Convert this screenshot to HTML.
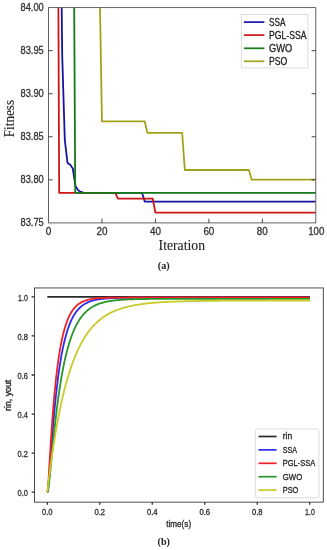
<!DOCTYPE html>
<html><head><meta charset="utf-8"><title>Figure</title>
<style>
html,body{margin:0;padding:0;background:#fff;}
body{width:327px;height:550px;overflow:hidden;}
svg{display:block;}
</style></head><body>
<svg width="327" height="550" viewBox="0 0 327 550">
<rect width="327" height="550" fill="#fff"/>
<clipPath id="ca"><rect x="48.5" y="7.6" width="267.30" height="215.30"/></clipPath>
<g clip-path="url(#ca)" fill="none" stroke-width="1.8" stroke-linejoin="round">
<polyline stroke="#1414a2" points="61.20,-40.00 61.70,7.50 62.20,55.00 64.80,140.00 67.50,162.90 70.20,164.80 72.80,168.50 75.50,186.20 78.20,190.30 80.80,191.90 83.50,192.60 86.20,192.90 142.06,192.90 144.73,201.60 315.80,201.60"/>
<polyline stroke="#cf1414" points="58.10,-40.00 58.40,7.50 59.19,192.90 115.33,192.90 118.00,198.60 152.75,198.60 155.42,212.60 315.80,212.60"/>
<polyline stroke="#147a18" points="73.90,-40.00 74.20,7.50 75.23,192.90 315.80,192.90"/>
<polyline stroke="#a3a11c" points="99.50,-40.00 100.00,7.50 101.96,121.30 144.73,121.30 147.40,132.80 182.15,132.80 184.82,170.00 248.97,170.00 251.65,179.70 315.80,179.70"/>
</g>
<rect x="48.5" y="7.6" width="267.30" height="215.30" fill="none" stroke="#525252" stroke-width="0.9"/>
<path d="M101.96 222.9 V218.70 M155.42 222.9 V218.70 M208.88 222.9 V218.70 M262.34 222.9 V218.70 M48.5 179.84 H52.70 M315.8 179.84 H311.60 M48.5 136.78 H52.70 M315.8 136.78 H311.60 M48.5 93.72 H52.70 M315.8 93.72 H311.60 M48.5 50.66 H52.70 M315.8 50.66 H311.60" stroke="#333" stroke-width="0.9" fill="none"/>
<text x="20.50" y="225.90" font-size="10.0" fill="#333" font-family='"Liberation Sans", sans-serif' textLength="23.20" lengthAdjust="spacingAndGlyphs" stroke="#333" stroke-width="0.3">83.75</text>
<text x="20.50" y="182.84" font-size="10.0" fill="#333" font-family='"Liberation Sans", sans-serif' textLength="23.20" lengthAdjust="spacingAndGlyphs" stroke="#333" stroke-width="0.3">83.80</text>
<text x="20.50" y="139.78" font-size="10.0" fill="#333" font-family='"Liberation Sans", sans-serif' textLength="23.20" lengthAdjust="spacingAndGlyphs" stroke="#333" stroke-width="0.3">83.85</text>
<text x="20.50" y="96.72" font-size="10.0" fill="#333" font-family='"Liberation Sans", sans-serif' textLength="23.20" lengthAdjust="spacingAndGlyphs" stroke="#333" stroke-width="0.3">83.90</text>
<text x="20.50" y="53.66" font-size="10.0" fill="#333" font-family='"Liberation Sans", sans-serif' textLength="23.20" lengthAdjust="spacingAndGlyphs" stroke="#333" stroke-width="0.3">83.95</text>
<text x="20.50" y="10.60" font-size="10.0" fill="#333" font-family='"Liberation Sans", sans-serif' textLength="23.20" lengthAdjust="spacingAndGlyphs" stroke="#333" stroke-width="0.3">84.00</text>
<text x="45.70" y="234.50" font-size="10.4" fill="#333" font-family='"Liberation Sans", sans-serif' textLength="5.60" lengthAdjust="spacingAndGlyphs" stroke="#333" stroke-width="0.3">0</text>
<text x="96.46" y="234.50" font-size="10.4" fill="#333" font-family='"Liberation Sans", sans-serif' textLength="11.00" lengthAdjust="spacingAndGlyphs" stroke="#333" stroke-width="0.3">20</text>
<text x="149.92" y="234.50" font-size="10.4" fill="#333" font-family='"Liberation Sans", sans-serif' textLength="11.00" lengthAdjust="spacingAndGlyphs" stroke="#333" stroke-width="0.3">40</text>
<text x="203.38" y="234.50" font-size="10.4" fill="#333" font-family='"Liberation Sans", sans-serif' textLength="11.00" lengthAdjust="spacingAndGlyphs" stroke="#333" stroke-width="0.3">60</text>
<text x="256.84" y="234.50" font-size="10.4" fill="#333" font-family='"Liberation Sans", sans-serif' textLength="11.00" lengthAdjust="spacingAndGlyphs" stroke="#333" stroke-width="0.3">80</text>
<text x="308.20" y="234.50" font-size="10.4" fill="#333" font-family='"Liberation Sans", sans-serif' textLength="16.20" lengthAdjust="spacingAndGlyphs" stroke="#333" stroke-width="0.3">100</text>
<text x="158.60" y="249.70" font-size="13.6" fill="#222" font-family='"Liberation Serif", serif' textLength="46.40" lengthAdjust="spacingAndGlyphs" stroke="#222" stroke-width="0.1">Iteration</text>
<text transform="translate(13.7 137.2) rotate(-90)" font-size="14.2" fill="#222" stroke="#222" stroke-width="0.1" font-family='"Liberation Serif", serif' textLength="37.2" lengthAdjust="spacingAndGlyphs">Fitness</text>
<rect x="241.3" y="14.4" width="66.6" height="53.5" fill="#fff" stroke="#d4d4d4" stroke-width="0.8"/>
<line x1="243.9" x2="264.4" y1="22.1" y2="22.1" stroke="#1414a2" stroke-width="1.7"/>
<text x="269.00" y="25.70" font-size="11" fill="#222" font-family='"Liberation Sans", sans-serif' textLength="16.50" lengthAdjust="spacingAndGlyphs" stroke="#222" stroke-width="0.3">SSA</text>
<line x1="243.9" x2="264.4" y1="35.1" y2="35.1" stroke="#cf1414" stroke-width="1.7"/>
<text x="269.00" y="38.70" font-size="11" fill="#222" font-family='"Liberation Sans", sans-serif' textLength="37.60" lengthAdjust="spacingAndGlyphs" stroke="#222" stroke-width="0.3">PGL-SSA</text>
<line x1="243.9" x2="264.4" y1="48.3" y2="48.3" stroke="#147a18" stroke-width="1.7"/>
<text x="269.00" y="51.90" font-size="11" fill="#222" font-family='"Liberation Sans", sans-serif' textLength="23.20" lengthAdjust="spacingAndGlyphs" stroke="#222" stroke-width="0.3">GWO</text>
<line x1="243.9" x2="264.4" y1="61.3" y2="61.3" stroke="#a3a11c" stroke-width="1.7"/>
<text x="269.00" y="64.90" font-size="11" fill="#222" font-family='"Liberation Sans", sans-serif' textLength="18.30" lengthAdjust="spacingAndGlyphs" stroke="#222" stroke-width="0.3">PSO</text>
<text x="163.80" y="268.60" font-size="10.2" fill="#222" font-family='"Liberation Serif", serif' font-weight="bold" text-anchor="middle">(a)</text>
<g fill="none" stroke-width="1.8" stroke-linecap="butt" stroke-linejoin="round">
<line x1="47.3" x2="310.0" y1="296.9" y2="296.9" stroke="#2a2a2a"/>
<polyline stroke="#2c2cee" stroke-width="1.8" points="47.30,492.20 47.30,492.20 47.31,492.20 47.31,492.20 47.33,492.20 47.34,492.19 47.36,492.18 47.38,492.16 47.40,492.13 47.43,492.08 47.46,492.02 47.50,491.95 47.54,491.84 47.58,491.72 47.62,491.56 47.67,491.36 47.72,491.13 47.77,490.85 47.83,490.53 47.89,490.16 47.96,489.74 48.02,489.26 48.09,488.73 48.17,488.13 48.24,487.47 48.32,486.74 48.41,485.94 48.50,485.08 48.59,484.14 48.68,483.14 48.78,482.06 48.88,480.91 48.98,479.69 49.09,478.40 49.20,477.04 49.31,475.61 49.43,474.12 49.55,472.56 49.67,470.93 49.79,469.25 49.92,467.51 50.06,465.71 50.19,463.85 50.33,461.95 50.48,460.00 50.62,458.00 50.77,455.96 50.92,453.88 51.08,451.76 51.24,449.62 51.40,447.43 51.57,445.23 51.73,442.99 51.91,440.74 52.08,438.47 52.26,436.18 52.44,433.87 52.63,431.56 52.82,429.23 53.01,426.90 53.20,424.57 53.40,422.23 53.60,419.89 53.81,417.56 54.02,415.23 54.23,412.90 54.44,410.58 54.66,408.28 54.88,405.98 55.11,403.70 55.34,401.43 55.57,399.17 55.80,396.93 56.04,394.71 56.28,392.51 56.52,390.33 56.77,388.17 57.02,386.03 57.28,383.91 57.54,381.82 57.80,379.76 58.06,377.71 58.33,375.70 58.60,373.71 58.87,371.75 59.15,369.82 59.43,367.91 59.71,366.03 60.00,364.19 60.29,362.37 60.58,360.58 60.88,358.82 61.18,357.10 61.48,355.40 61.79,353.73 62.10,352.10 62.41,350.50 62.73,348.92 63.05,347.38 63.37,345.87 63.70,344.40 64.03,342.95 64.36,341.53 64.70,340.15 65.04,338.79 65.38,337.47 65.73,336.18 66.08,334.91 66.43,333.68 66.78,332.48 67.14,331.31 67.51,330.16 67.87,329.05 68.24,327.96 68.61,326.91 68.99,325.88 69.37,324.88 69.75,323.90 70.14,322.95 70.52,322.03 70.92,321.14 71.31,320.27 71.71,319.43 72.11,318.61 72.52,317.82 72.92,317.05 73.34,316.30 73.75,315.58 74.17,314.88 74.59,314.20 75.02,313.54 75.44,312.91 75.88,312.30 76.31,311.70 76.75,311.13 77.19,310.57 77.63,310.04 78.08,309.52 78.53,309.02 78.99,308.54 79.44,308.08 79.90,307.63 80.37,307.20 80.84,306.79 81.31,306.39 81.78,306.00 82.26,305.63 82.74,305.28 83.22,304.94 83.71,304.61 84.20,304.29 84.69,303.99 85.19,303.70 85.69,303.42 86.19,303.15 86.70,302.89 87.21,302.64 87.72,302.41 88.24,302.18 88.76,301.96 89.28,301.76 89.81,301.56 90.34,301.37 90.87,301.18 91.41,301.01 91.95,300.84 92.49,300.69 93.04,300.53 93.59,300.39 94.14,300.25 94.70,300.12 95.26,299.99 95.82,299.87 96.38,299.76 96.95,299.65 97.52,299.55 98.10,299.45 98.68,299.35 99.26,299.26 99.85,299.18 100.44,299.10 101.03,299.02 101.62,298.95 102.22,298.88 102.82,298.81 103.43,298.75 104.04,298.69 104.65,298.63 105.26,298.58 105.88,298.53 106.50,298.48 107.13,298.44 107.76,298.39 108.39,298.35 109.02,298.32 109.66,298.28 110.30,298.24 110.95,298.21 111.59,298.18 112.25,298.15 112.90,298.13 113.56,298.10 114.22,298.07 114.88,298.05 115.55,298.03 116.22,298.01 116.90,297.99 117.57,297.97 118.25,297.95 118.94,297.94 119.62,297.92 120.31,297.91 121.01,297.90 121.71,297.88 122.41,297.87 123.11,297.86 123.82,297.85 124.53,297.84 125.24,297.83 125.96,297.82 126.68,297.81 127.40,297.81 128.13,297.80 128.86,297.79 129.59,297.79 130.32,297.78 131.06,297.77 131.81,297.77 132.55,297.77 133.30,297.76 134.06,297.76 134.81,297.75 135.57,297.75 136.33,297.75 137.10,297.74 137.87,297.74 138.64,297.74 139.42,297.73 140.20,297.73 140.98,297.73 141.76,297.73 142.55,297.73 143.34,297.72 144.14,297.72 144.94,297.72 145.74,297.72 146.55,297.72 147.35,297.72 148.17,297.71 148.98,297.71 149.80,297.71 150.62,297.71 151.45,297.71 152.27,297.71 153.11,297.71 153.94,297.71 154.78,297.71 155.62,297.71 156.46,297.71 157.31,297.71 158.16,297.71 159.02,297.71 159.88,297.70 160.74,297.70 161.60,297.70 162.47,297.70 163.34,297.70 164.21,297.70 165.09,297.70 165.97,297.70 166.86,297.70 167.74,297.70 168.63,297.70 169.53,297.70 170.42,297.70 171.32,297.70 172.23,297.70 173.14,297.70 174.05,297.70 174.96,297.70 175.88,297.70 176.80,297.70 177.72,297.70 178.65,297.70 179.58,297.70 180.51,297.70 181.45,297.70 182.39,297.70 183.33,297.70 184.27,297.70 185.22,297.70 186.18,297.70 187.13,297.70 188.09,297.70 189.06,297.70 190.02,297.70 190.99,297.70 191.96,297.70 192.94,297.70 193.92,297.70 194.90,297.70 195.89,297.70 196.87,297.70 197.87,297.70 198.86,297.70 199.86,297.70 200.86,297.70 201.87,297.70 202.88,297.70 203.89,297.70 204.90,297.70 205.92,297.70 206.94,297.70 207.97,297.70 209.00,297.70 210.03,297.70 211.06,297.70 212.10,297.70 213.14,297.70 214.19,297.70 215.24,297.70 216.29,297.70 217.34,297.70 218.40,297.70 219.46,297.70 220.52,297.70 221.59,297.70 222.66,297.70 223.74,297.70 224.82,297.70 225.90,297.70 226.98,297.70 228.07,297.70 229.16,297.70 230.25,297.70 231.35,297.70 232.45,297.70 233.55,297.70 234.66,297.70 235.77,297.70 236.88,297.70 238.00,297.70 239.12,297.70 240.24,297.70 241.37,297.70 242.50,297.70 243.63,297.70 244.77,297.70 245.91,297.70 247.05,297.70 248.20,297.70 249.35,297.70 250.50,297.70 251.66,297.70 252.82,297.70 253.98,297.70 255.15,297.70 256.32,297.70 257.49,297.70 258.66,297.70 259.84,297.70 261.03,297.70 262.21,297.70 263.40,297.70 264.59,297.70 265.79,297.70 266.99,297.70 268.19,297.70 269.40,297.70 270.60,297.70 271.82,297.70 273.03,297.70 274.25,297.70 275.47,297.70 276.70,297.70 277.92,297.70 279.16,297.70 280.39,297.70 281.63,297.70 282.87,297.70 284.12,297.70 285.36,297.70 286.62,297.70 287.87,297.70 289.13,297.70 290.39,297.70 291.65,297.70 292.92,297.70 294.19,297.70 295.47,297.70 296.74,297.70 298.02,297.70 299.31,297.70 300.60,297.70 301.89,297.70 303.18,297.70 304.48,297.70 305.78,297.70 307.08,297.70 308.39,297.70 309.70,297.70 310.00,297.70"/>
<polyline stroke="#ee2226" stroke-width="1.8" points="47.30,492.20 47.30,492.20 47.31,492.20 47.31,492.20 47.33,492.19 47.34,492.18 47.36,492.16 47.38,492.12 47.40,492.06 47.43,491.98 47.46,491.88 47.50,491.73 47.54,491.55 47.58,491.32 47.62,491.03 47.67,490.69 47.72,490.29 47.77,489.82 47.83,489.27 47.89,488.65 47.96,487.96 48.02,487.17 48.09,486.31 48.17,485.35 48.24,484.31 48.32,483.18 48.41,481.97 48.50,480.67 48.59,479.28 48.68,477.81 48.78,476.26 48.88,474.63 48.98,472.92 49.09,471.14 49.20,469.29 49.31,467.38 49.43,465.40 49.55,463.37 49.67,461.28 49.79,459.14 49.92,456.96 50.06,454.73 50.19,452.47 50.33,450.17 50.48,447.83 50.62,445.47 50.77,443.09 50.92,440.68 51.08,438.26 51.24,435.82 51.40,433.37 51.57,430.91 51.73,428.44 51.91,425.97 52.08,423.50 52.26,421.02 52.44,418.55 52.63,416.09 52.82,413.63 53.01,411.18 53.20,408.73 53.40,406.31 53.60,403.89 53.81,401.49 54.02,399.11 54.23,396.74 54.44,394.39 54.66,392.07 54.88,389.76 55.11,387.48 55.34,385.23 55.57,382.99 55.80,380.79 56.04,378.61 56.28,376.46 56.52,374.34 56.77,372.25 57.02,370.19 57.28,368.16 57.54,366.16 57.80,364.19 58.06,362.26 58.33,360.36 58.60,358.49 58.87,356.66 59.15,354.86 59.43,353.09 59.71,351.36 60.00,349.67 60.29,348.01 60.58,346.38 60.88,344.79 61.18,343.24 61.48,341.72 61.79,340.23 62.10,338.78 62.41,337.36 62.73,335.98 63.05,334.64 63.37,333.32 63.70,332.04 64.03,330.80 64.36,329.58 64.70,328.41 65.04,327.26 65.38,326.14 65.73,325.06 66.08,324.01 66.43,322.99 66.78,321.99 67.14,321.03 67.51,320.10 67.87,319.20 68.24,318.33 68.61,317.48 68.99,316.66 69.37,315.87 69.75,315.10 70.14,314.36 70.52,313.65 70.92,312.96 71.31,312.29 71.71,311.65 72.11,311.03 72.52,310.43 72.92,309.86 73.34,309.30 73.75,308.77 74.17,308.26 74.59,307.76 75.02,307.29 75.44,306.83 75.88,306.39 76.31,305.97 76.75,305.57 77.19,305.18 77.63,304.81 78.08,304.46 78.53,304.12 78.99,303.79 79.44,303.48 79.90,303.18 80.37,302.89 80.84,302.62 81.31,302.36 81.78,302.11 82.26,301.87 82.74,301.64 83.22,301.42 83.71,301.22 84.20,301.02 84.69,300.83 85.19,300.65 85.69,300.48 86.19,300.32 86.70,300.16 87.21,300.02 87.72,299.88 88.24,299.74 88.76,299.62 89.28,299.50 89.81,299.38 90.34,299.27 90.87,299.17 91.41,299.08 91.95,298.98 92.49,298.90 93.04,298.81 93.59,298.74 94.14,298.66 94.70,298.59 95.26,298.53 95.82,298.46 96.38,298.41 96.95,298.35 97.52,298.30 98.10,298.25 98.68,298.20 99.26,298.16 99.85,298.12 100.44,298.08 101.03,298.04 101.62,298.00 102.22,297.97 102.82,297.94 103.43,297.91 104.04,297.89 104.65,297.86 105.26,297.84 105.88,297.81 106.50,297.79 107.13,297.77 107.76,297.75 108.39,297.74 109.02,297.72 109.66,297.71 110.30,297.69 110.95,297.68 111.59,297.67 112.25,297.65 112.90,297.64 113.56,297.63 114.22,297.62 114.88,297.62 115.55,297.61 116.22,297.60 116.90,297.59 117.57,297.59 118.25,297.58 118.94,297.57 119.62,297.57 120.31,297.56 121.01,297.56 121.71,297.55 122.41,297.55 123.11,297.55 123.82,297.54 124.53,297.54 125.24,297.54 125.96,297.53 126.68,297.53 127.40,297.53 128.13,297.53 128.86,297.52 129.59,297.52 130.32,297.52 131.06,297.52 131.81,297.52 132.55,297.52 133.30,297.51 134.06,297.51 134.81,297.51 135.57,297.51 136.33,297.51 137.10,297.51 137.87,297.51 138.64,297.51 139.42,297.51 140.20,297.51 140.98,297.51 141.76,297.51 142.55,297.51 143.34,297.50 144.14,297.50 144.94,297.50 145.74,297.50 146.55,297.50 147.35,297.50 148.17,297.50 148.98,297.50 149.80,297.50 150.62,297.50 151.45,297.50 152.27,297.50 153.11,297.50 153.94,297.50 154.78,297.50 155.62,297.50 156.46,297.50 157.31,297.50 158.16,297.50 159.02,297.50 159.88,297.50 160.74,297.50 161.60,297.50 162.47,297.50 163.34,297.50 164.21,297.50 165.09,297.50 165.97,297.50 166.86,297.50 167.74,297.50 168.63,297.50 169.53,297.50 170.42,297.50 171.32,297.50 172.23,297.50 173.14,297.50 174.05,297.50 174.96,297.50 175.88,297.50 176.80,297.50 177.72,297.50 178.65,297.50 179.58,297.50 180.51,297.50 181.45,297.50 182.39,297.50 183.33,297.50 184.27,297.50 185.22,297.50 186.18,297.50 187.13,297.50 188.09,297.50 189.06,297.50 190.02,297.50 190.99,297.50 191.96,297.50 192.94,297.50 193.92,297.50 194.90,297.50 195.89,297.50 196.87,297.50 197.87,297.50 198.86,297.50 199.86,297.50 200.86,297.50 201.87,297.50 202.88,297.50 203.89,297.50 204.90,297.50 205.92,297.50 206.94,297.50 207.97,297.50 209.00,297.50 210.03,297.50 211.06,297.50 212.10,297.50 213.14,297.50 214.19,297.50 215.24,297.50 216.29,297.50 217.34,297.50 218.40,297.50 219.46,297.50 220.52,297.50 221.59,297.50 222.66,297.50 223.74,297.50 224.82,297.50 225.90,297.50 226.98,297.50 228.07,297.50 229.16,297.50 230.25,297.50 231.35,297.50 232.45,297.50 233.55,297.50 234.66,297.50 235.77,297.50 236.88,297.50 238.00,297.50 239.12,297.50 240.24,297.50 241.37,297.50 242.50,297.50 243.63,297.50 244.77,297.50 245.91,297.50 247.05,297.50 248.20,297.50 249.35,297.50 250.50,297.50 251.66,297.50 252.82,297.50 253.98,297.50 255.15,297.50 256.32,297.50 257.49,297.50 258.66,297.50 259.84,297.50 261.03,297.50 262.21,297.50 263.40,297.50 264.59,297.50 265.79,297.50 266.99,297.50 268.19,297.50 269.40,297.50 270.60,297.50 271.82,297.50 273.03,297.50 274.25,297.50 275.47,297.50 276.70,297.50 277.92,297.50 279.16,297.50 280.39,297.50 281.63,297.50 282.87,297.50 284.12,297.50 285.36,297.50 286.62,297.50 287.87,297.50 289.13,297.50 290.39,297.50 291.65,297.50 292.92,297.50 294.19,297.50 295.47,297.50 296.74,297.50 298.02,297.50 299.31,297.50 300.60,297.50 301.89,297.50 303.18,297.50 304.48,297.50 305.78,297.50 307.08,297.50 308.39,297.50 309.70,297.50 310.00,297.50"/>
<polyline stroke="#289628" stroke-width="1.8" points="47.30,492.20 47.30,492.20 47.31,492.20 47.31,492.20 47.33,492.20 47.34,492.19 47.36,492.19 47.38,492.17 47.40,492.16 47.43,492.13 47.46,492.09 47.50,492.05 47.54,491.99 47.58,491.91 47.62,491.81 47.67,491.69 47.72,491.55 47.77,491.38 47.83,491.18 47.89,490.95 47.96,490.68 48.02,490.38 48.09,490.04 48.17,489.66 48.24,489.23 48.32,488.76 48.41,488.24 48.50,487.67 48.59,487.06 48.68,486.39 48.78,485.67 48.88,484.89 48.98,484.06 49.09,483.18 49.20,482.24 49.31,481.25 49.43,480.20 49.55,479.10 49.67,477.95 49.79,476.74 49.92,475.48 50.06,474.17 50.19,472.81 50.33,471.40 50.48,469.94 50.62,468.44 50.77,466.90 50.92,465.31 51.08,463.68 51.24,462.01 51.40,460.31 51.57,458.57 51.73,456.80 51.91,455.00 52.08,453.16 52.26,451.31 52.44,449.42 52.63,447.52 52.82,445.59 53.01,443.65 53.20,441.68 53.40,439.70 53.60,437.71 53.81,435.71 54.02,433.70 54.23,431.68 54.44,429.65 54.66,427.62 54.88,425.58 55.11,423.54 55.34,421.50 55.57,419.47 55.80,417.43 56.04,415.40 56.28,413.37 56.52,411.35 56.77,409.34 57.02,407.33 57.28,405.34 57.54,403.35 57.80,401.37 58.06,399.41 58.33,397.46 58.60,395.52 58.87,393.60 59.15,391.69 59.43,389.80 59.71,387.93 60.00,386.07 60.29,384.23 60.58,382.41 60.88,380.60 61.18,378.82 61.48,377.06 61.79,375.31 62.10,373.59 62.41,371.89 62.73,370.21 63.05,368.55 63.37,366.91 63.70,365.30 64.03,363.71 64.36,362.14 64.70,360.59 65.04,359.07 65.38,357.57 65.73,356.09 66.08,354.64 66.43,353.21 66.78,351.81 67.14,350.43 67.51,349.07 67.87,347.74 68.24,346.43 68.61,345.14 68.99,343.88 69.37,342.64 69.75,341.43 70.14,340.24 70.52,339.07 70.92,337.93 71.31,336.81 71.71,335.71 72.11,334.64 72.52,333.59 72.92,332.56 73.34,331.55 73.75,330.57 74.17,329.61 74.59,328.67 75.02,327.75 75.44,326.86 75.88,325.98 76.31,325.13 76.75,324.29 77.19,323.48 77.63,322.69 78.08,321.92 78.53,321.16 78.99,320.43 79.44,319.72 79.90,319.02 80.37,318.34 80.84,317.68 81.31,317.04 81.78,316.42 82.26,315.81 82.74,315.22 83.22,314.65 83.71,314.10 84.20,313.56 84.69,313.03 85.19,312.52 85.69,312.03 86.19,311.55 86.70,311.08 87.21,310.63 87.72,310.20 88.24,309.77 88.76,309.36 89.28,308.97 89.81,308.58 90.34,308.21 90.87,307.85 91.41,307.50 91.95,307.17 92.49,306.84 93.04,306.53 93.59,306.22 94.14,305.93 94.70,305.64 95.26,305.37 95.82,305.11 96.38,304.85 96.95,304.60 97.52,304.37 98.10,304.14 98.68,303.92 99.26,303.71 99.85,303.50 100.44,303.30 101.03,303.11 101.62,302.93 102.22,302.76 102.82,302.59 103.43,302.42 104.04,302.27 104.65,302.12 105.26,301.97 105.88,301.83 106.50,301.70 107.13,301.57 107.76,301.45 108.39,301.33 109.02,301.22 109.66,301.11 110.30,301.01 110.95,300.91 111.59,300.81 112.25,300.72 112.90,300.63 113.56,300.55 114.22,300.47 114.88,300.39 115.55,300.31 116.22,300.24 116.90,300.18 117.57,300.11 118.25,300.05 118.94,299.99 119.62,299.94 120.31,299.88 121.01,299.83 121.71,299.78 122.41,299.73 123.11,299.69 123.82,299.65 124.53,299.61 125.24,299.57 125.96,299.53 126.68,299.50 127.40,299.46 128.13,299.43 128.86,299.40 129.59,299.37 130.32,299.34 131.06,299.32 131.81,299.29 132.55,299.27 133.30,299.25 134.06,299.23 134.81,299.21 135.57,299.19 136.33,299.17 137.10,299.15 137.87,299.13 138.64,299.12 139.42,299.10 140.20,299.09 140.98,299.08 141.76,299.06 142.55,299.05 143.34,299.04 144.14,299.03 144.94,299.02 145.74,299.01 146.55,299.00 147.35,298.99 148.17,298.98 148.98,298.98 149.80,298.97 150.62,298.96 151.45,298.95 152.27,298.95 153.11,298.94 153.94,298.94 154.78,298.93 155.62,298.93 156.46,298.92 157.31,298.92 158.16,298.91 159.02,298.91 159.88,298.91 160.74,298.90 161.60,298.90 162.47,298.90 163.34,298.89 164.21,298.89 165.09,298.89 165.97,298.89 166.86,298.88 167.74,298.88 168.63,298.88 169.53,298.88 170.42,298.88 171.32,298.87 172.23,298.87 173.14,298.87 174.05,298.87 174.96,298.87 175.88,298.87 176.80,298.87 177.72,298.87 178.65,298.86 179.58,298.86 180.51,298.86 181.45,298.86 182.39,298.86 183.33,298.86 184.27,298.86 185.22,298.86 186.18,298.86 187.13,298.86 188.09,298.86 189.06,298.86 190.02,298.86 190.99,298.86 191.96,298.86 192.94,298.85 193.92,298.85 194.90,298.85 195.89,298.85 196.87,298.85 197.87,298.85 198.86,298.85 199.86,298.85 200.86,298.85 201.87,298.85 202.88,298.85 203.89,298.85 204.90,298.85 205.92,298.85 206.94,298.85 207.97,298.85 209.00,298.85 210.03,298.85 211.06,298.85 212.10,298.85 213.14,298.85 214.19,298.85 215.24,298.85 216.29,298.85 217.34,298.85 218.40,298.85 219.46,298.85 220.52,298.85 221.59,298.85 222.66,298.85 223.74,298.85 224.82,298.85 225.90,298.85 226.98,298.85 228.07,298.85 229.16,298.85 230.25,298.85 231.35,298.85 232.45,298.85 233.55,298.85 234.66,298.85 235.77,298.85 236.88,298.85 238.00,298.85 239.12,298.85 240.24,298.85 241.37,298.85 242.50,298.85 243.63,298.85 244.77,298.85 245.91,298.85 247.05,298.85 248.20,298.85 249.35,298.85 250.50,298.85 251.66,298.85 252.82,298.85 253.98,298.85 255.15,298.85 256.32,298.85 257.49,298.85 258.66,298.85 259.84,298.85 261.03,298.85 262.21,298.85 263.40,298.85 264.59,298.85 265.79,298.85 266.99,298.85 268.19,298.85 269.40,298.85 270.60,298.85 271.82,298.85 273.03,298.85 274.25,298.85 275.47,298.85 276.70,298.85 277.92,298.85 279.16,298.85 280.39,298.85 281.63,298.85 282.87,298.85 284.12,298.85 285.36,298.85 286.62,298.85 287.87,298.85 289.13,298.85 290.39,298.85 291.65,298.85 292.92,298.85 294.19,298.85 295.47,298.85 296.74,298.85 298.02,298.85 299.31,298.85 300.60,298.85 301.89,298.85 303.18,298.85 304.48,298.85 305.78,298.85 307.08,298.85 308.39,298.85 309.70,298.85 310.00,298.85"/>
<polyline stroke="#caca2a" stroke-width="1.8" points="47.30,492.20 47.30,492.19 47.31,492.14 47.31,492.07 47.33,491.97 47.34,491.85 47.36,491.69 47.38,491.51 47.40,491.30 47.43,491.06 47.46,490.79 47.50,490.50 47.54,490.18 47.58,489.83 47.62,489.45 47.67,489.05 47.72,488.62 47.77,488.16 47.83,487.68 47.89,487.17 47.96,486.64 48.02,486.08 48.09,485.49 48.17,484.88 48.24,484.24 48.32,483.58 48.41,482.89 48.50,482.18 48.59,481.45 48.68,480.69 48.78,479.91 48.88,479.11 48.98,478.28 49.09,477.44 49.20,476.57 49.31,475.68 49.43,474.76 49.55,473.83 49.67,472.88 49.79,471.91 49.92,470.91 50.06,469.90 50.19,468.87 50.33,467.82 50.48,466.76 50.62,465.67 50.77,464.57 50.92,463.46 51.08,462.32 51.24,461.18 51.40,460.01 51.57,458.83 51.73,457.64 51.91,456.44 52.08,455.22 52.26,453.98 52.44,452.74 52.63,451.48 52.82,450.21 53.01,448.94 53.20,447.65 53.40,446.35 53.60,445.04 53.81,443.72 54.02,442.39 54.23,441.06 54.44,439.72 54.66,438.37 54.88,437.01 55.11,435.65 55.34,434.28 55.57,432.91 55.80,431.53 56.04,430.15 56.28,428.76 56.52,427.38 56.77,425.98 57.02,424.59 57.28,423.19 57.54,421.79 57.80,420.39 58.06,418.99 58.33,417.59 58.60,416.19 58.87,414.79 59.15,413.39 59.43,411.99 59.71,410.59 60.00,409.20 60.29,407.80 60.58,406.41 60.88,405.03 61.18,403.64 61.48,402.26 61.79,400.89 62.10,399.52 62.41,398.15 62.73,396.79 63.05,395.44 63.37,394.09 63.70,392.75 64.03,391.41 64.36,390.08 64.70,388.76 65.04,387.44 65.38,386.14 65.73,384.84 66.08,383.55 66.43,382.26 66.78,380.99 67.14,379.72 67.51,378.47 67.87,377.22 68.24,375.98 68.61,374.76 68.99,373.54 69.37,372.33 69.75,371.13 70.14,369.94 70.52,368.77 70.92,367.60 71.31,366.45 71.71,365.30 72.11,364.17 72.52,363.05 72.92,361.94 73.34,360.84 73.75,359.76 74.17,358.68 74.59,357.62 75.02,356.57 75.44,355.53 75.88,354.50 76.31,353.49 76.75,352.48 77.19,351.49 77.63,350.52 78.08,349.55 78.53,348.60 78.99,347.65 79.44,346.73 79.90,345.81 80.37,344.91 80.84,344.01 81.31,343.13 81.78,342.27 82.26,341.41 82.74,340.57 83.22,339.74 83.71,338.92 84.20,338.12 84.69,337.32 85.19,336.54 85.69,335.78 86.19,335.02 86.70,334.27 87.21,333.54 87.72,332.82 88.24,332.11 88.76,331.41 89.28,330.73 89.81,330.05 90.34,329.39 90.87,328.74 91.41,328.10 91.95,327.47 92.49,326.86 93.04,326.25 93.59,325.65 94.14,325.07 94.70,324.50 95.26,323.93 95.82,323.38 96.38,322.84 96.95,322.31 97.52,321.79 98.10,321.27 98.68,320.77 99.26,320.28 99.85,319.80 100.44,319.33 101.03,318.86 101.62,318.41 102.22,317.97 102.82,317.53 103.43,317.11 104.04,316.69 104.65,316.28 105.26,315.88 105.88,315.49 106.50,315.11 107.13,314.74 107.76,314.37 108.39,314.01 109.02,313.66 109.66,313.32 110.30,312.98 110.95,312.66 111.59,312.34 112.25,312.02 112.90,311.72 113.56,311.42 114.22,311.13 114.88,310.85 115.55,310.57 116.22,310.30 116.90,310.03 117.57,309.77 118.25,309.52 118.94,309.27 119.62,309.03 120.31,308.80 121.01,308.57 121.71,308.35 122.41,308.13 123.11,307.92 123.82,307.71 124.53,307.51 125.24,307.31 125.96,307.12 126.68,306.93 127.40,306.75 128.13,306.57 128.86,306.40 129.59,306.23 130.32,306.07 131.06,305.91 131.81,305.76 132.55,305.60 133.30,305.46 134.06,305.31 134.81,305.17 135.57,305.04 136.33,304.91 137.10,304.78 137.87,304.65 138.64,304.53 139.42,304.41 140.20,304.30 140.98,304.18 141.76,304.08 142.55,303.97 143.34,303.87 144.14,303.77 144.94,303.67 145.74,303.57 146.55,303.48 147.35,303.39 148.17,303.31 148.98,303.22 149.80,303.14 150.62,303.06 151.45,302.98 152.27,302.91 153.11,302.83 153.94,302.76 154.78,302.70 155.62,302.63 156.46,302.56 157.31,302.50 158.16,302.44 159.02,302.38 159.88,302.32 160.74,302.27 161.60,302.21 162.47,302.16 163.34,302.11 164.21,302.06 165.09,302.01 165.97,301.96 166.86,301.92 167.74,301.87 168.63,301.83 169.53,301.79 170.42,301.75 171.32,301.71 172.23,301.67 173.14,301.63 174.05,301.60 174.96,301.56 175.88,301.53 176.80,301.50 177.72,301.47 178.65,301.44 179.58,301.41 180.51,301.38 181.45,301.35 182.39,301.32 183.33,301.30 184.27,301.27 185.22,301.25 186.18,301.22 187.13,301.20 188.09,301.18 189.06,301.15 190.02,301.13 190.99,301.11 191.96,301.09 192.94,301.07 193.92,301.05 194.90,301.04 195.89,301.02 196.87,301.00 197.87,300.98 198.86,300.97 199.86,300.95 200.86,300.94 201.87,300.92 202.88,300.91 203.89,300.90 204.90,300.88 205.92,300.87 206.94,300.86 207.97,300.84 209.00,300.83 210.03,300.82 211.06,300.81 212.10,300.80 213.14,300.79 214.19,300.78 215.24,300.77 216.29,300.76 217.34,300.75 218.40,300.74 219.46,300.73 220.52,300.72 221.59,300.72 222.66,300.71 223.74,300.70 224.82,300.69 225.90,300.69 226.98,300.68 228.07,300.67 229.16,300.66 230.25,300.66 231.35,300.65 232.45,300.65 233.55,300.64 234.66,300.63 235.77,300.63 236.88,300.62 238.00,300.62 239.12,300.61 240.24,300.61 241.37,300.60 242.50,300.60 243.63,300.59 244.77,300.59 245.91,300.59 247.05,300.58 248.20,300.58 249.35,300.57 250.50,300.57 251.66,300.57 252.82,300.56 253.98,300.56 255.15,300.56 256.32,300.55 257.49,300.55 258.66,300.55 259.84,300.54 261.03,300.54 262.21,300.54 263.40,300.54 264.59,300.53 265.79,300.53 266.99,300.53 268.19,300.53 269.40,300.52 270.60,300.52 271.82,300.52 273.03,300.52 274.25,300.51 275.47,300.51 276.70,300.51 277.92,300.51 279.16,300.51 280.39,300.51 281.63,300.50 282.87,300.50 284.12,300.50 285.36,300.50 286.62,300.50 287.87,300.50 289.13,300.49 290.39,300.49 291.65,300.49 292.92,300.49 294.19,300.49 295.47,300.49 296.74,300.49 298.02,300.49 299.31,300.48 300.60,300.48 301.89,300.48 303.18,300.48 304.48,300.48 305.78,300.48 307.08,300.48 308.39,300.48 309.70,300.48 310.00,300.48"/>
</g>
<rect x="34.5" y="287.95" width="288.80" height="214.20" fill="none" stroke="#3a3a3a" stroke-width="0.9"/>
<path d="M47.30 502.15 V504.75 M34.5 492.20 H31.60 M99.78 502.15 V504.75 M34.5 453.14 H31.60 M152.26 502.15 V504.75 M34.5 414.08 H31.60 M204.74 502.15 V504.75 M34.5 375.02 H31.60 M257.22 502.15 V504.75 M34.5 335.96 H31.60 M309.70 502.15 V504.75 M34.5 296.90 H31.60" stroke="#2c2c2c" stroke-width="1.3" fill="none"/>
<text x="17.50" y="495.80" font-size="9.7" fill="#2a2a2a" font-family='"Liberation Sans", sans-serif' textLength="10.40" lengthAdjust="spacingAndGlyphs" stroke="#2a2a2a" stroke-width="0.3">0.0</text>
<text x="42.00" y="514.80" font-size="9.7" fill="#2a2a2a" font-family='"Liberation Sans", sans-serif' textLength="10.60" lengthAdjust="spacingAndGlyphs" stroke="#2a2a2a" stroke-width="0.3">0.0</text>
<text x="17.50" y="456.74" font-size="9.7" fill="#2a2a2a" font-family='"Liberation Sans", sans-serif' textLength="10.40" lengthAdjust="spacingAndGlyphs" stroke="#2a2a2a" stroke-width="0.3">0.2</text>
<text x="94.48" y="514.80" font-size="9.7" fill="#2a2a2a" font-family='"Liberation Sans", sans-serif' textLength="10.60" lengthAdjust="spacingAndGlyphs" stroke="#2a2a2a" stroke-width="0.3">0.2</text>
<text x="17.50" y="417.68" font-size="9.7" fill="#2a2a2a" font-family='"Liberation Sans", sans-serif' textLength="10.40" lengthAdjust="spacingAndGlyphs" stroke="#2a2a2a" stroke-width="0.3">0.4</text>
<text x="146.96" y="514.80" font-size="9.7" fill="#2a2a2a" font-family='"Liberation Sans", sans-serif' textLength="10.60" lengthAdjust="spacingAndGlyphs" stroke="#2a2a2a" stroke-width="0.3">0.4</text>
<text x="17.50" y="378.62" font-size="9.7" fill="#2a2a2a" font-family='"Liberation Sans", sans-serif' textLength="10.40" lengthAdjust="spacingAndGlyphs" stroke="#2a2a2a" stroke-width="0.3">0.6</text>
<text x="199.44" y="514.80" font-size="9.7" fill="#2a2a2a" font-family='"Liberation Sans", sans-serif' textLength="10.60" lengthAdjust="spacingAndGlyphs" stroke="#2a2a2a" stroke-width="0.3">0.6</text>
<text x="17.50" y="339.56" font-size="9.7" fill="#2a2a2a" font-family='"Liberation Sans", sans-serif' textLength="10.40" lengthAdjust="spacingAndGlyphs" stroke="#2a2a2a" stroke-width="0.3">0.8</text>
<text x="251.92" y="514.80" font-size="9.7" fill="#2a2a2a" font-family='"Liberation Sans", sans-serif' textLength="10.60" lengthAdjust="spacingAndGlyphs" stroke="#2a2a2a" stroke-width="0.3">0.8</text>
<text x="18.10" y="300.50" font-size="9.7" fill="#2a2a2a" font-family='"Liberation Sans", sans-serif' textLength="9.70" lengthAdjust="spacingAndGlyphs" stroke="#2a2a2a" stroke-width="0.3">1.0</text>
<text x="305.00" y="514.80" font-size="9.7" fill="#2a2a2a" font-family='"Liberation Sans", sans-serif' textLength="9.80" lengthAdjust="spacingAndGlyphs" stroke="#2a2a2a" stroke-width="0.3">1.0</text>
<text x="166.30" y="526.90" font-size="8.8" fill="#2a2a2a" font-family='"Liberation Sans", sans-serif' textLength="24.80" lengthAdjust="spacingAndGlyphs" stroke="#2a2a2a" stroke-width="0.3">time(s)</text>
<text transform="translate(11.0 411.0) rotate(-90)" font-size="9.0" fill="#222" stroke="#222" stroke-width="0.35" font-family='"Liberation Sans", sans-serif' textLength="31.3" lengthAdjust="spacingAndGlyphs">rin, yout</text>
<rect x="255.3" y="428.9" width="63.6" height="68.9" rx="1.8" fill="#fff" stroke="#d4d4d4" stroke-width="0.8"/>
<line x1="258.5" x2="276.6" y1="436.5" y2="436.5" stroke="#2a2a2a" stroke-width="1.7"/>
<text x="282.80" y="439.40" font-size="9.2" fill="#2a2a2a" font-family='"Liberation Sans", sans-serif' textLength="9.40" lengthAdjust="spacingAndGlyphs" stroke="#2a2a2a" stroke-width="0.35">rin</text>
<line x1="258.5" x2="276.6" y1="449.9" y2="449.9" stroke="#2c2cee" stroke-width="1.7"/>
<text x="282.80" y="452.80" font-size="9.2" fill="#2a2a2a" font-family='"Liberation Sans", sans-serif' textLength="14.30" lengthAdjust="spacingAndGlyphs" stroke="#2a2a2a" stroke-width="0.35">SSA</text>
<line x1="258.5" x2="276.6" y1="463.3" y2="463.3" stroke="#ee2226" stroke-width="1.7"/>
<text x="282.80" y="466.20" font-size="9.2" fill="#2a2a2a" font-family='"Liberation Sans", sans-serif' textLength="32.30" lengthAdjust="spacingAndGlyphs" stroke="#2a2a2a" stroke-width="0.35">PGL-SSA</text>
<line x1="258.5" x2="276.6" y1="476.7" y2="476.7" stroke="#289628" stroke-width="1.7"/>
<text x="282.80" y="479.60" font-size="9.2" fill="#2a2a2a" font-family='"Liberation Sans", sans-serif' textLength="19.40" lengthAdjust="spacingAndGlyphs" stroke="#2a2a2a" stroke-width="0.35">GWO</text>
<line x1="258.5" x2="276.6" y1="490.1" y2="490.1" stroke="#caca2a" stroke-width="1.7"/>
<text x="282.80" y="493.00" font-size="9.2" fill="#2a2a2a" font-family='"Liberation Sans", sans-serif' textLength="15.50" lengthAdjust="spacingAndGlyphs" stroke="#2a2a2a" stroke-width="0.35">PSO</text>
<text x="163.80" y="544.90" font-size="10.2" fill="#222" font-family='"Liberation Serif", serif' font-weight="bold" text-anchor="middle">(b)</text>
</svg>
</body></html>
